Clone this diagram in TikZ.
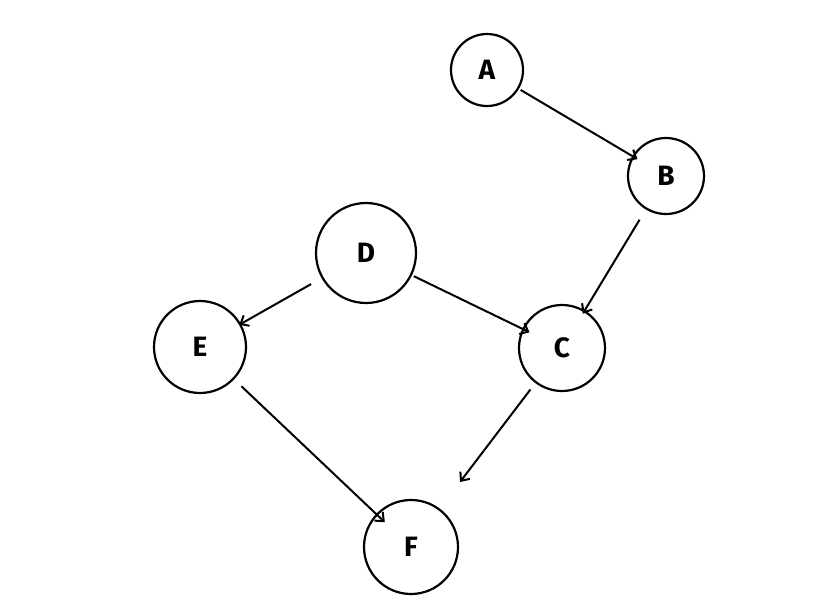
\documentclass[tikz,border=0pt]{standalone}
\usepackage{fontspec}
\setmainfont{Fira Sans}
\usetikzlibrary{arrows.meta}
\begin{document}
\begin{tikzpicture}[x=1pt,y=-1pt,
  vtx/.style={circle,draw,line width=2.2pt,inner sep=0pt,font=\fontsize{28}{28}\selectfont\bfseries},
  edge/.style={line width=2pt,-{Straight Barb[length=7pt,width=12pt,line width=2pt]}}]
\useasboundingbox (0,0) rectangle (836,614);
\node[vtx,minimum size=72pt] (A) at (487,70) {A};
\node[vtx,minimum size=76pt] (B) at (666,176) {B};
\node[vtx,minimum size=100pt] (D) at (366,253) {D};
\node[vtx,minimum size=92pt] (E) at (200,347) {E};
\node[vtx,minimum size=86pt] (C) at (562,348) {C};
\node[vtx,minimum size=94pt] (F) at (411,547) {F};
\coordinate (Fend) at (460,482);
\draw[edge,shorten <=2pt,shorten >=-6pt] (A) -- (B);
\draw[edge,shorten <=12pt,shorten >=-4pt] (B) -- (C);
\draw[edge,shorten <=2pt,shorten >=-8pt] (D) -- (C);
\draw[edge,shorten <=12pt,shorten >=-2pt] (D) -- (E);
\draw[edge,shorten <=10pt,shorten >=-12pt] (E) -- (F);
\draw[edge,shorten <=8pt] (C) -- (Fend);
\end{tikzpicture}
\end{document}
